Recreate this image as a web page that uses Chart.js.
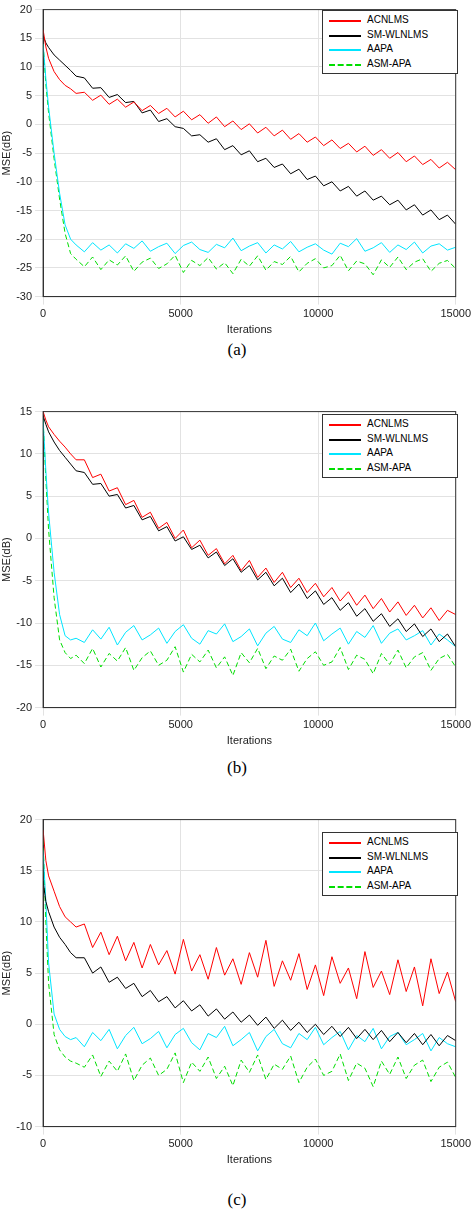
<!DOCTYPE html>
<html>
<head>
<meta charset="utf-8">
<script src="https://cdn.jsdelivr.net/npm/chart.js@4/dist/chart.umd.min.js"></script>
<style>
  body { margin: 0; background: #fff; width: 474px; height: 1224px; position: relative; font-family: "Liberation Sans", Arial, sans-serif; }
  .panel { position: absolute; left: 0; width: 474px; }
  .cap { position: absolute; width: 474px; text-align: center; font-family: "Liberation Serif", serif; font-size: 17px; }
  .legend { position: absolute; left: 322px; width: 134px; background: #fff; border: 1px solid #333; font-size: 10px; padding: 2px 0; }
  .legend div { height: 14.5px; line-height: 14.5px; position: relative; padding-left: 44px; }
  .legend span { position: absolute; left: 6px; top: 7px; width: 32px; border-top: 2px solid; }
</style>
</head>
<body>
<div class="panel" style="top:0;height:337px"><canvas id="chartA"></canvas></div>
<div class="panel" style="top:402px;height:346px"><canvas id="chartB"></canvas></div>
<div class="panel" style="top:810px;height:357px"><canvas id="chartC"></canvas></div>
<div class="cap" style="top:340px">(a)</div>
<div class="cap" style="top:758px">(b)</div>
<div class="cap" style="top:1190px">(c)</div>
<script>
const legendNames = ["ACNLMS", "SM-WLNLMS", "AAPA", "ASM-APA"];
const colors = ["#ff0000", "#000000", "#00e5ff", "#00dd00"];

const xEarly = [0, 100, 200, 400, 600, 800, 1000, 1200];
const xLate = [];
for (let x = 1500; x <= 15000; x += 300) xLate.push(x);
const iterations = xEarly.concat(xLate);

// panel (a)
const redA = [16.5, 13.5, 11.5, 9.2, 7.8, 6.8, 6.2, 5.4,
  5.6, 4.2, 5.1, 3.5, 4.4, 3.0, 3.9, 2.4, 3.3, 1.9, 2.8, 1.3, 2.3, 0.8, 1.7, 0.2, 1.3, -0.4, 0.6, -0.9, 0.1, -1.5, -0.5, -2.0, -1.0, -2.6, -1.6, -3.1, -2.2, -3.7, -2.7, -4.2, -3.3, -4.8, -3.8, -5.4, -4.4, -5.9, -4.9, -6.5, -5.5, -7.0, -6.1, -7.6, -6.6, -7.9];
const blackA = [15.5, 14.2, 13.4, 12.1, 11.2, 10.3, 9.4, 8.4,
  8.1, 6.3, 6.4, 4.7, 5.2, 3.8, 4.0, 2.0, 2.5, 0.5, 1.0, -0.4, -0.7, -2.0, -1.8, -3.1, -2.5, -4.4, -3.7, -5.3, -4.6, -6.5, -5.9, -7.5, -6.9, -8.6, -7.8, -9.6, -9.0, -10.7, -10.0, -11.6, -10.8, -12.5, -11.6, -13.2, -12.5, -14.0, -13.2, -14.9, -14.0, -15.8, -14.9, -16.6, -15.8, -17.4];
const cyanA = [14, 8, 3, -5, -12, -17.5, -20, -21,
  -22.2, -20.6, -21.9, -21.0, -22.4, -20.8, -21.6, -20.3, -22.1, -21.3, -20.7, -22.5, -21.1, -20.5, -21.8, -22.3, -20.9, -21.5, -19.8, -22.0, -21.2, -20.6, -22.4, -21.0, -21.7, -20.4, -22.2, -21.4, -20.8, -21.9, -22.6, -20.7, -21.3, -19.9, -22.1, -21.5, -20.6, -22.3, -21.0, -21.8, -20.5, -22.4, -21.2, -20.8, -21.9, -21.4];
const greenA = [14, 7, 2, -6, -13, -19, -22.5, -23.5,
  -24.8, -23.1, -25.3, -23.6, -24.5, -22.9, -25.6, -24.0, -23.3, -25.1, -24.3, -22.8, -25.8, -23.7, -24.6, -23.2, -25.2, -24.1, -26.0, -23.5, -24.7, -22.9, -25.4, -23.9, -24.4, -23.0, -25.7, -24.2, -23.4, -25.0, -24.6, -22.8, -25.5, -23.8, -24.3, -26.2, -23.6, -24.9, -23.1, -25.3, -24.0, -23.4, -25.6, -24.2, -23.7, -25.1];

// panel (b)
const redB = [15, 14, 13.2, 12.3, 11.5, 10.8, 10.0, 9.3,
  9.3, 7.2, 7.6, 5.6, 6.0, 4.0, 4.5, 2.5, 3.1, 1.2, 1.9, 0.0, 1.0, -1.1, -0.2, -2.0, -1.2, -3.0, -2.0, -3.8, -2.6, -4.6, -3.5, -5.2, -4.0, -5.8, -4.7, -6.4, -5.3, -6.9, -5.8, -7.4, -6.3, -7.9, -6.7, -8.3, -7.1, -8.7, -7.5, -9.1, -7.9, -9.4, -8.2, -9.7, -8.5, -9.0];
const blackB = [14.5, 13.5, 12.6, 11.4, 10.4, 9.6, 8.8, 8.0,
  7.8, 6.4, 6.5, 5.0, 5.2, 3.6, 3.9, 2.2, 2.6, 0.9, 1.4, -0.3, 0.2, -1.3, -0.8, -2.3, -1.6, -3.2, -2.4, -4.0, -3.2, -4.9, -4.0, -5.6, -4.7, -6.4, -5.4, -7.1, -6.2, -7.8, -7.0, -8.5, -7.6, -9.2, -8.3, -9.8, -8.9, -10.4, -9.5, -11.0, -10.1, -11.6, -10.7, -12.2, -11.3, -12.8];
const cyanB = [14, 8, 3, -4, -9, -11.5, -12, -11.8,
  -12.3, -10.8, -11.9, -10.5, -12.6, -11.1, -10.3, -12.0, -11.4, -10.6, -12.4, -11.0, -10.2, -11.8, -12.5, -10.9, -11.3, -10.1, -12.2, -11.6, -10.7, -12.7, -11.2, -10.4, -11.9, -12.3, -10.8, -11.5, -10.0, -12.1, -11.3, -10.6, -12.5, -11.0, -11.7, -10.3, -12.4, -11.2, -10.7, -12.0, -11.5, -10.9, -12.6, -11.3, -12.0, -12.8];
const greenB = [14, 7, 1, -7, -12, -13.5, -14.2, -13.8,
  -14.8, -13.0, -15.2, -13.6, -14.5, -12.9, -15.6, -14.1, -13.3, -15.0, -14.4, -12.8, -15.8, -13.7, -14.6, -13.2, -15.3, -14.0, -16.2, -13.5, -14.7, -13.0, -15.4, -13.9, -14.4, -13.1, -15.7, -14.2, -13.4, -15.0, -14.6, -12.9, -15.5, -13.8, -14.3, -16.0, -13.6, -14.9, -13.2, -15.3, -14.0, -13.5, -15.6, -14.2, -13.7, -15.2];

// panel (c)
const redC = [19, 16, 14.5, 13, 11.5, 10.5, 10, 9.5,
  9.8, 7.5, 9.0, 6.8, 8.6, 6.2, 8.0, 5.5, 7.8, 5.8, 7.2, 4.9, 8.3, 5.2, 6.8, 4.4, 7.5, 4.8, 6.4, 3.9, 7.0, 4.6, 8.2, 3.7, 6.2, 4.3, 6.9, 3.4, 5.8, 2.8, 6.6, 4.0, 5.5, 2.5, 7.1, 3.6, 5.2, 2.9, 6.3, 3.2, 5.6, 1.8, 6.4, 3.0, 5.1, 2.2];
const blackC = [14, 12, 11, 9.5, 8.5, 7.8, 7.0, 6.5,
  6.5, 5.0, 5.6, 4.1, 4.6, 3.5, 4.0, 2.7, 3.3, 2.2, 2.7, 1.6, 2.3, 1.3, 1.9, 0.8, 1.5, 0.5, 1.2, 0.2, 0.9, -0.1, 0.7, -0.4, 0.4, -0.6, 0.2, -0.8, 0.0, -1.0, -0.2, -1.2, -0.3, -1.4, -0.5, -1.5, -0.6, -1.7, -0.8, -1.8, -0.9, -2.0, -1.0, -2.1, -1.1, -1.6];
const cyanC = [17, 12, 6, 1, -0.5, -1.2, -1.5, -1.3,
  -2.2, -0.8, -1.6, -0.5, -2.4, -1.1, -0.3, -1.9, -1.4, -0.7, -2.3, -1.0, -0.4, -1.8, -2.5, -0.9, -1.3, -0.2, -2.1, -1.5, -0.8, -2.6, -1.2, -0.5, -1.9, -2.3, -0.9, -1.5, -0.3, -2.0, -1.3, -0.7, -2.5, -1.1, -1.7, -0.4, -2.4, -1.2, -0.8, -2.0, -1.5, -0.9, -2.6, -1.3, -1.9, -2.2];
const greenC = [18, 10, 4, -1, -2.5, -3.2, -3.6, -3.8,
  -4.2, -3.0, -5.1, -3.6, -4.6, -2.9, -5.5, -4.0, -3.3, -5.0, -4.4, -2.8, -5.7, -3.7, -4.6, -3.2, -5.3, -4.1, -6.0, -3.5, -4.7, -3.0, -5.4, -3.9, -4.4, -3.1, -5.7, -4.2, -3.4, -5.0, -4.6, -2.9, -5.5, -3.8, -4.3, -6.1, -3.6, -4.9, -3.2, -5.3, -4.0, -3.5, -5.6, -4.2, -3.7, -5.2];

function toPoints(ys) {
  return ys.map((y, i) => ({ x: iterations[i], y: y }));
}

function makeChart(id, series, yMin, yMax) {
  const datasets = series.map((ys, k) => ({
    label: legendNames[k],
    data: toPoints(ys),
    borderColor: colors[k],
    borderWidth: 1,
    borderDash: k === 3 ? [5, 3] : [],
    pointRadius: 0,
    tension: 0,
  }));
  const tickFont = { family: "Liberation Sans", size: 11 };
  return new Chart(document.getElementById(id), {
    type: "line",
    data: { datasets: datasets },
    options: {
      responsive: true,
      maintainAspectRatio: false,
      animation: false,
      layout: { padding: { top: 5, right: 16 } },
      plugins: { legend: { display: false }, tooltip: { enabled: false } },
      scales: {
        x: {
          type: "linear", min: 0, max: 15000,
          ticks: { stepSize: 5000, color: "#222", font: tickFont, maxRotation: 0, callback: (v) => String(v) },
          grid: { color: "#e2e2e2" },
          border: { color: "#333" },
          title: { display: true, text: "Iterations", color: "#222", font: tickFont, padding: 0 },
        },
        y: {
          min: yMin, max: yMax,
          ticks: { stepSize: 5, color: "#222", font: tickFont },
          grid: { color: "#e2e2e2" },
          border: { color: "#333" },
          title: { display: true, text: "MSE(dB)", color: "#222", font: tickFont, padding: 0 },
        },
      },
    },
    plugins: [{
      id: "box",
      afterDraw(chart) {
        const a = chart.chartArea, c = chart.ctx;
        c.save(); c.strokeStyle = "#333"; c.lineWidth = 1;
        c.strokeRect(a.left, a.top, a.right - a.left, a.bottom - a.top);
        c.restore();
      },
    }],
  });
}

makeChart("chartA", [redA, blackA, cyanA, greenA], -30, 20);
makeChart("chartB", [redB, blackB, cyanB, greenB], -20, 15);
makeChart("chartC", [redC, blackC, cyanC, greenC], -10, 20);

function makeLegend(top) {
  const box = document.createElement("div");
  box.className = "legend";
  box.style.top = top + "px";
  legendNames.forEach((name, k) => {
    const row = document.createElement("div");
    const line = document.createElement("span");
    line.style.borderTopColor = colors[k];
    if (k === 3) line.style.borderTopStyle = "dashed";
    row.appendChild(line);
    row.appendChild(document.createTextNode(name));
    box.appendChild(row);
  });
  document.body.appendChild(box);
}
makeLegend(10);
makeLegend(414);
makeLegend(832);
</script>
</body>
</html>
